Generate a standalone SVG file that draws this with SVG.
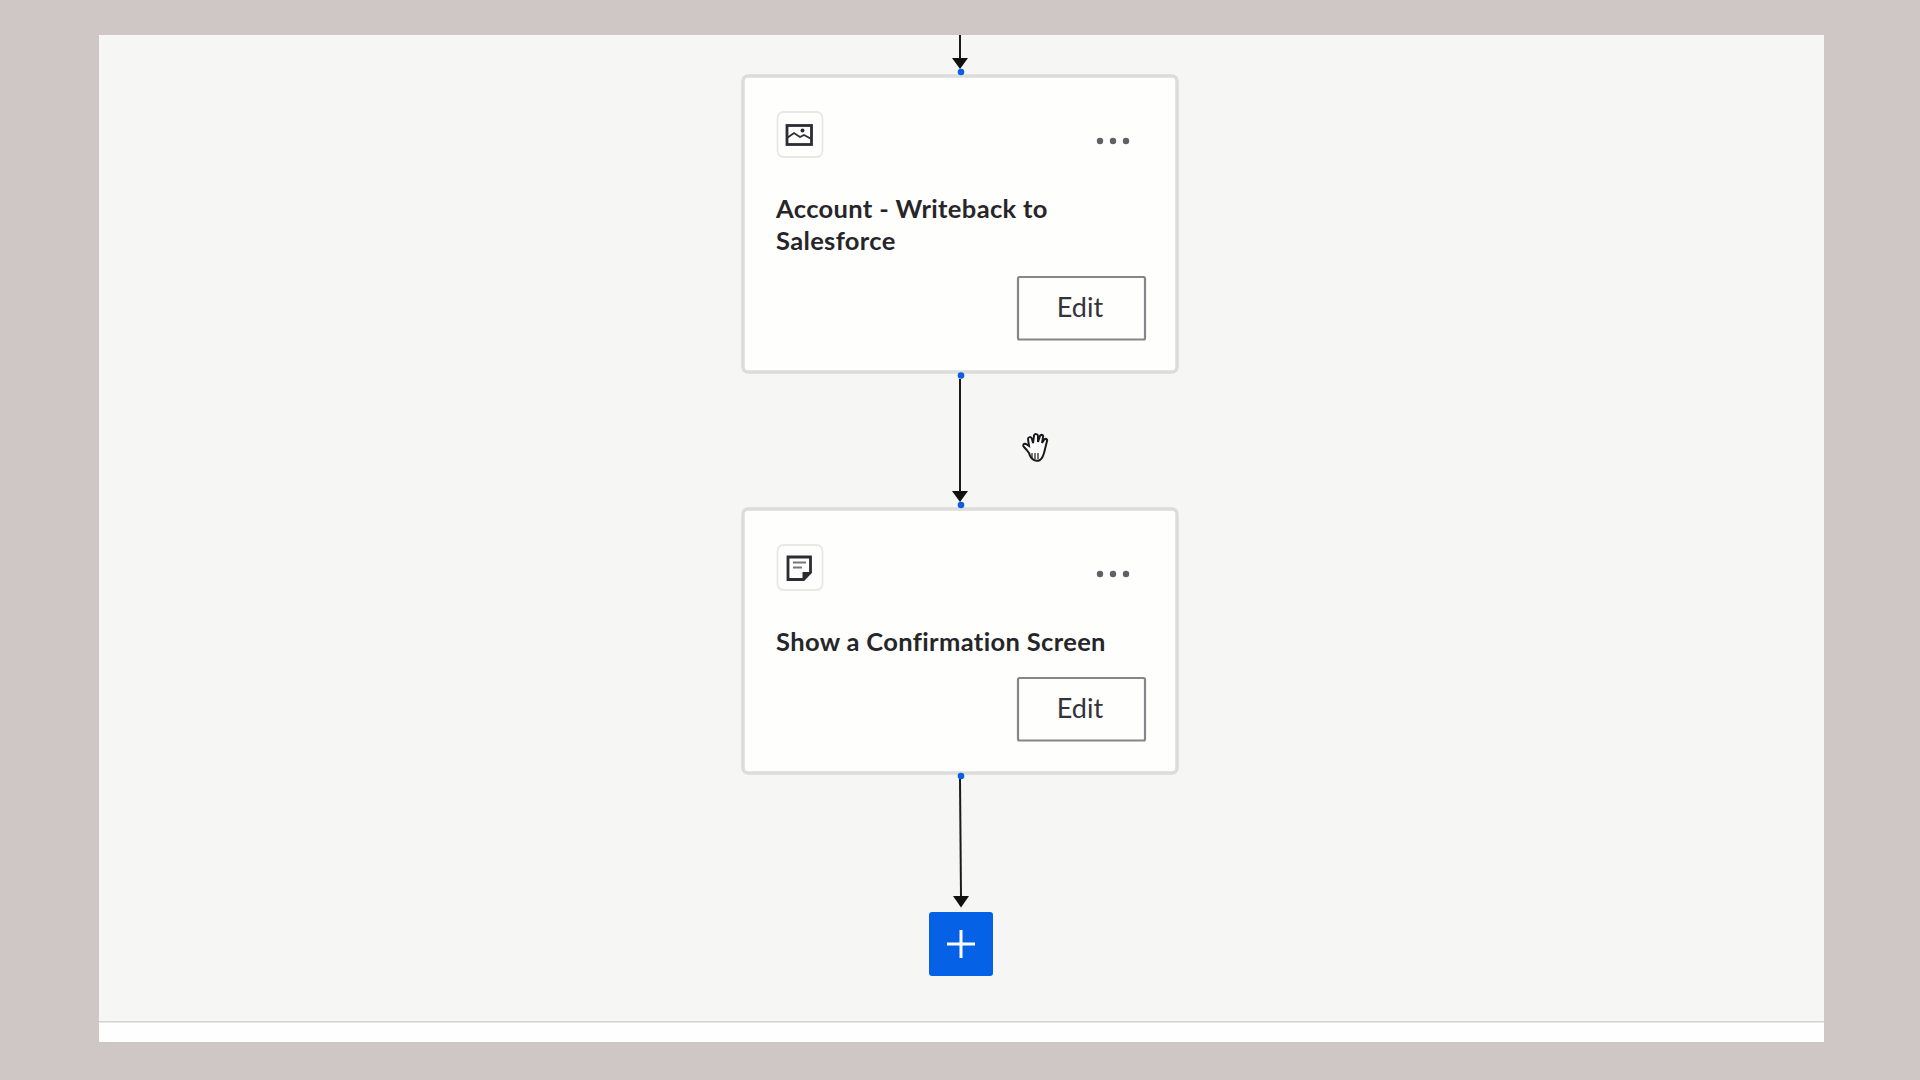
<svg xmlns="http://www.w3.org/2000/svg" width="1920" height="1080" viewBox="0 0 1920 1080">
<style>
.card{fill:#fefefd;stroke:#dcdcdc;stroke-width:3.500}
.ibox{fill:#fefefd;stroke:#e8e8e8;stroke-width:1.800}
.title{font-family:"Lato","Liberation Sans",sans-serif;font-weight:700;font-size:25.5px;letter-spacing:.35px;font-variant-ligatures:none;fill:#26262a}
.btn{fill:#fefefd;stroke:#85858a;stroke-width:2.200}
.btxt{font-family:"Lato","Liberation Sans",sans-serif;font-size:27px;fill:#33333a;text-anchor:middle}
.dot{fill:#606066}
.port{fill:#0b5fe0}
.line{stroke:#1a1a1c;stroke-width:2;fill:none}
.head{fill:#111113}
.ic{fill:none;stroke:#2c2c32;stroke-width:2.800}
</style>
<rect width="1920" height="1080" fill="#cfc7c5"/>
<rect x="99" y="35" width="1725" height="987" fill="#f6f6f5"/>
<rect x="99" y="1022" width="1725" height="20" fill="#fefefe"/>
<rect x="99" y="1021" width="1725" height="1.5" fill="#d2d2d2"/>

<g id="connectors">
<line class="line" x1="960" y1="35" x2="960" y2="60"/>
<path class="head" d="M952 58h16L960 69z"/>
<line class="line" x1="960" y1="379" x2="960" y2="493"/>
<path class="head" d="M952 491h16L960 502z"/>
<line class="line" x1="960" y1="779" x2="961" y2="898"/>
<path class="head" d="M953 896h16L961 907.500z"/>
</g>

<g id="node-writeback">
<rect class="card" x="743" y="76" width="434" height="296" rx="5"/>
<circle class="port" cx="961" cy="72" r="3.300"/>
<circle class="port" cx="961" cy="375.500" r="3.300"/>
<rect class="ibox" x="777.500" y="112" width="45" height="45" rx="6"/>
<rect class="ic" x="787" y="125.500" width="24.500" height="19"/>
<path d="M787 138l7-5 6 4 4-2 7.500 4" fill="none" stroke="#2c2c32" stroke-width="1.800"/>
<circle cx="802.500" cy="130.500" r="2" fill="#2c2c32"/>
<circle class="dot" cx="1100" cy="141" r="3.200"/>
<circle class="dot" cx="1113" cy="141" r="3.200"/>
<circle class="dot" cx="1126" cy="141" r="3.200"/>
<text class="title" x="776" y="218">Account - Writeback to</text>
<text class="title" x="776" y="250">Salesforce</text>
<rect class="btn" x="1018" y="277" width="127" height="62.500" rx="1.500"/>
<text class="btxt" x="1080" y="317">Edit</text>
</g>

<g id="node-confirmation">
<rect class="card" x="743" y="509" width="434" height="264" rx="5"/>
<circle class="port" cx="961" cy="505" r="3.300"/>
<circle class="port" cx="961" cy="776" r="3.300"/>
<rect class="ibox" x="777.500" y="545" width="45" height="45" rx="6"/>
<path class="ic" d="M788 557h22.500v15.500l-7 7h-15.500z"/>
<path d="M802.500 581v-9h9.500z" fill="#2c2c32"/>
<path d="M793 562.500h13M793 567.500h9" stroke="#77777c" stroke-width="2" fill="none"/>
<circle class="dot" cx="1100" cy="574" r="3.200"/>
<circle class="dot" cx="1113" cy="574" r="3.200"/>
<circle class="dot" cx="1126" cy="574" r="3.200"/>
<text class="title" x="776" y="651">Show a Confirmation Screen</text>
<rect class="btn" x="1018" y="678" width="127" height="62.500" rx="1.500"/>
<text class="btxt" x="1080" y="718">Edit</text>
</g>

<g id="node-add">
<rect x="929" y="912" width="64" height="64" rx="3" fill="#0561e6"/>
<path d="M961 930v28M947 944h28" stroke="#fff" stroke-width="3" fill="none"/>
</g>

<g id="cursor" transform="translate(-1,4)">
<path d="M1030 449c-2-3-4-5-5-6-2-2 0-4 2-3l3 2-1-7c0-2 3-3 4 0l1 4 1-7c0-3 4-2 4 0v6l2-6c1-2 4-1 3 1l-1 6 2-3c1-2 4-1 3 1l-2 8c-1 5-2 9-5 11-4 2-9 0-11-7z" fill="#fff" stroke="#1a1a1c" stroke-width="2"/>
<path d="M1033 449v5M1036 449v6M1039 449v6" stroke="#1a1a1c" stroke-width="1.200" fill="none"/>
</g>
</svg>
